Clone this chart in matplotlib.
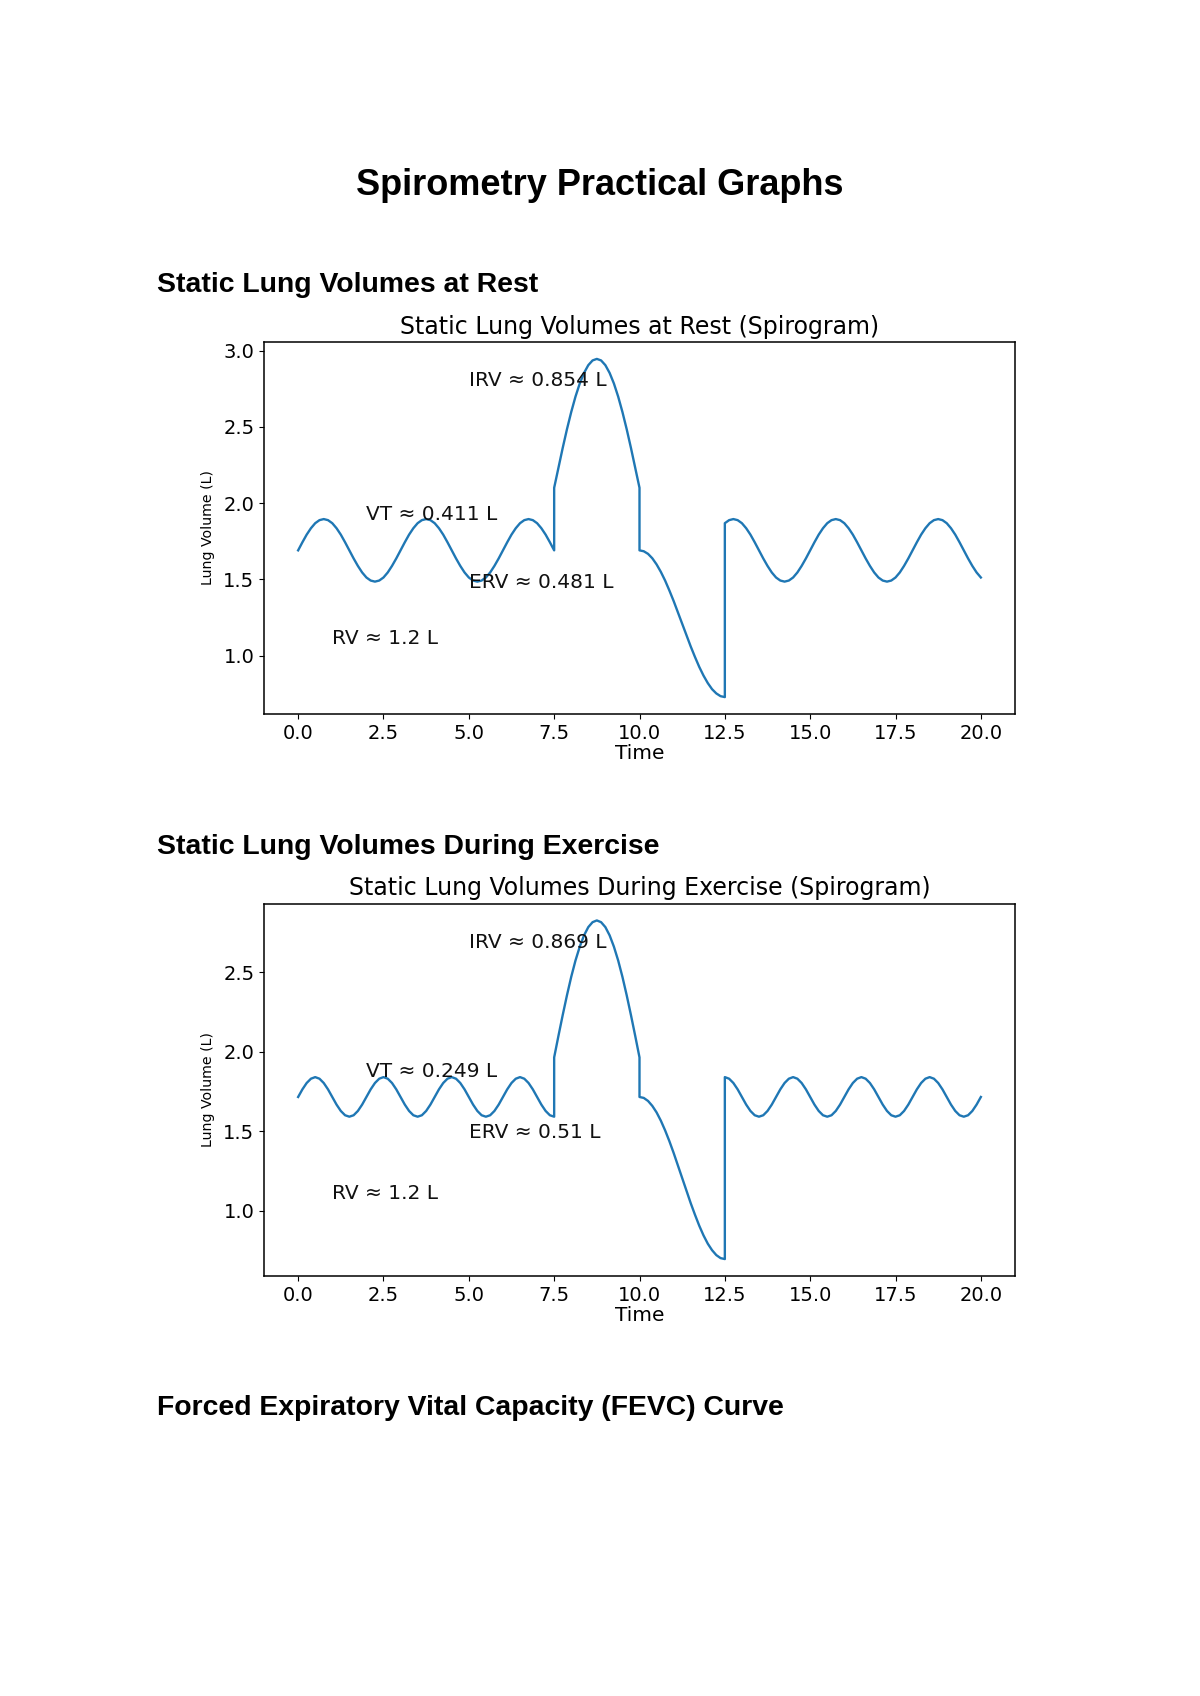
import matplotlib
matplotlib.use("Agg")
import matplotlib.pyplot as plt

# ---------------- data ----------------
time_seg1 = [0.0, 0.125, 0.25, 0.375, 0.5, 0.625, 0.75, 0.875,
             1.0, 1.125, 1.25, 1.375, 1.5, 1.625, 1.75, 1.875,
             2.0, 2.125, 2.25, 2.375, 2.5, 2.625, 2.75, 2.875,
             3.0, 3.125, 3.25, 3.375, 3.5, 3.625, 3.75, 3.875,
             4.0, 4.125, 4.25, 4.375, 4.5, 4.625, 4.75, 4.875,
             5.0, 5.125, 5.25, 5.375, 5.5, 5.625, 5.75, 5.875,
             6.0, 6.125, 6.25, 6.375, 6.5, 6.625, 6.75, 6.875,
             7.0, 7.125, 7.25, 7.375, 7.5]
time_seg2 = [7.5, 7.625, 7.75, 7.875, 8.0, 8.125, 8.25, 8.375, 8.5, 8.625, 8.75,
             8.875, 9.0, 9.125, 9.25, 9.375, 9.5, 9.625, 9.75, 9.875, 10.0]
time_seg3 = [10.0, 10.125, 10.25, 10.375, 10.5, 10.625, 10.75, 10.875, 11.0, 11.125, 11.25,
             11.375, 11.5, 11.625, 11.75, 11.875, 12.0, 12.125, 12.25, 12.375, 12.5]
time_seg4 = [12.5, 12.625, 12.75, 12.875, 13.0, 13.125, 13.25, 13.375,
             13.5, 13.625, 13.75, 13.875, 14.0, 14.125, 14.25, 14.375,
             14.5, 14.625, 14.75, 14.875, 15.0, 15.125, 15.25, 15.375,
             15.5, 15.625, 15.75, 15.875, 16.0, 16.125, 16.25, 16.375,
             16.5, 16.625, 16.75, 16.875, 17.0, 17.125, 17.25, 17.375,
             17.5, 17.625, 17.75, 17.875, 18.0, 18.125, 18.25, 18.375,
             18.5, 18.625, 18.75, 18.875, 19.0, 19.125, 19.25, 19.375,
             19.5, 19.625, 19.75, 19.875, 20.0]

rest_seg1 = [1.690, 1.743, 1.793, 1.835, 1.868, 1.888, 1.895, 1.888, 1.868, 1.835, 1.793, 1.743,
             1.690, 1.637, 1.588, 1.545, 1.512, 1.492, 1.485, 1.492, 1.512, 1.545, 1.588, 1.637,
             1.690, 1.743, 1.793, 1.835, 1.868, 1.888, 1.895, 1.888, 1.868, 1.835, 1.793, 1.743,
             1.690, 1.637, 1.588, 1.545, 1.512, 1.492, 1.485, 1.492, 1.512, 1.545, 1.588, 1.637,
             1.690, 1.743, 1.793, 1.835, 1.868, 1.888, 1.895, 1.888, 1.868, 1.835, 1.793, 1.743,
             1.690]
rest_seg2 = [2.100, 2.232, 2.361, 2.484, 2.597, 2.698, 2.784, 2.853, 2.904, 2.935, 2.945,
             2.935, 2.904, 2.853, 2.784, 2.698, 2.597, 2.484, 2.361, 2.232, 2.100]
rest_seg3 = [1.690, 1.684, 1.667, 1.638, 1.598, 1.549, 1.492, 1.427, 1.358, 1.284, 1.209,
             1.134, 1.060, 0.991, 0.926, 0.869, 0.820, 0.780, 0.752, 0.734, 0.728]
rest_seg4 = [1.868, 1.888, 1.895, 1.888, 1.868, 1.835, 1.793, 1.743,
             1.690, 1.637, 1.588, 1.545, 1.512, 1.492, 1.485, 1.492, 1.512, 1.545, 1.588, 1.637,
             1.690, 1.743, 1.793, 1.835, 1.868, 1.888, 1.895, 1.888, 1.868, 1.835, 1.793, 1.743,
             1.690, 1.637, 1.588, 1.545, 1.512, 1.492, 1.485, 1.492, 1.512, 1.545, 1.588, 1.637,
             1.690, 1.743, 1.793, 1.835, 1.868, 1.888, 1.895, 1.888, 1.868, 1.835, 1.793, 1.743,
             1.690, 1.637, 1.588, 1.545, 1.512]

ex_seg1 = [1.715, 1.763, 1.803, 1.830, 1.840, 1.830, 1.803, 1.763,
           1.715, 1.667, 1.627, 1.600, 1.591, 1.600, 1.627, 1.667,
           1.715, 1.763, 1.803, 1.830, 1.840, 1.830, 1.803, 1.763,
           1.715, 1.667, 1.627, 1.600, 1.591, 1.600, 1.627, 1.667,
           1.715, 1.763, 1.803, 1.830, 1.840, 1.830, 1.803, 1.763,
           1.715, 1.667, 1.627, 1.600, 1.591, 1.600, 1.627, 1.667,
           1.715, 1.763, 1.803, 1.830, 1.840, 1.830, 1.803, 1.763,
           1.715, 1.667, 1.627, 1.600, 1.591]
ex_seg2 = [1.964, 2.099, 2.230, 2.355, 2.471, 2.574, 2.661, 2.732, 2.784, 2.815, 2.826,
           2.815, 2.784, 2.732, 2.661, 2.574, 2.471, 2.355, 2.230, 2.099, 1.964]
ex_seg3 = [1.715, 1.709, 1.690, 1.659, 1.618, 1.566, 1.505, 1.437, 1.363, 1.285, 1.205,
           1.125, 1.047, 0.974, 0.905, 0.844, 0.792, 0.751, 0.720, 0.701, 0.695]
ex_seg4 = [1.840, 1.830, 1.803, 1.763,
           1.715, 1.667, 1.627, 1.600, 1.591, 1.600, 1.627, 1.667,
           1.715, 1.763, 1.803, 1.830, 1.840, 1.830, 1.803, 1.763,
           1.715, 1.667, 1.627, 1.600, 1.591, 1.600, 1.627, 1.667,
           1.715, 1.763, 1.803, 1.830, 1.840, 1.830, 1.803, 1.763,
           1.715, 1.667, 1.627, 1.600, 1.591, 1.600, 1.627, 1.667,
           1.715, 1.763, 1.803, 1.830, 1.840, 1.830, 1.803, 1.763,
           1.715, 1.667, 1.627, 1.600, 1.591, 1.600, 1.627, 1.667,
           1.715]

rest_labels = ["IRV \u2248 0.854 L", "VT \u2248 0.411 L", "ERV \u2248 0.481 L", "RV \u2248 1.2 L"]
rest_label_x = [5.0, 2.0, 5.0, 1.0]
rest_label_y = [2.765, 1.890, 1.445, 1.078]

ex_labels = ["IRV \u2248 0.869 L", "VT \u2248 0.249 L", "ERV \u2248 0.51 L", "RV \u2248 1.2 L"]
ex_label_x = [5.0, 2.0, 5.0, 1.0]
ex_label_y = [2.655, 1.838, 1.458, 1.074]

page_title = "Spirometry Practical Graphs"
section_titles = ["Static Lung Volumes at Rest",
                  "Static Lung Volumes During Exercise",
                  "Forced Expiratory Vital Capacity (FEVC) Curve"]
chart_titles = ["Static Lung Volumes at Rest (Spirogram)",
                "Static Lung Volumes During Exercise (Spirogram)"]

# ---------------- figure ----------------
W, H = 1200, 1696
fig = plt.figure(figsize=(W / 100, H / 100), dpi=100)
fig.patch.set_facecolor("white")

head_font = ["Liberation Sans", "DejaVu Sans"]
fig.text(600 / W, 1 - 195 / H, page_title, ha="center", va="baseline",
         fontsize=26, fontweight="bold", family=head_font)
for txt, yb in zip(section_titles, [292, 854, 1415]):
    fig.text(157 / W, 1 - yb / H, txt, ha="left", va="baseline",
             fontsize=20.4, fontweight="bold", family=head_font)


def make_chart(top_px, bottom_px, segs, labels, lx, ly, title):
    left_px, right_px = 264, 1015
    ax = fig.add_axes([left_px / W, 1 - bottom_px / H,
                       (right_px - left_px) / W, (bottom_px - top_px) / H])
    tt = time_seg1 + time_seg2 + time_seg3 + time_seg4
    vv = segs[0] + segs[1] + segs[2] + segs[3]
    ax.plot(tt, vv, color="#1f77b4", linewidth=1.7)
    for s, x, y in zip(labels, lx, ly):
        ax.text(x, y, s, fontsize=14.5, color="#111111")
    ax.set_title(title, fontsize=17, pad=6)
    ax.set_xlabel("Time", fontsize=14.5, labelpad=1)
    ax.set_ylabel("Lung Volume (L)", fontsize=10.2, labelpad=6)
    ax.set_xticks([0.0, 2.5, 5.0, 7.5, 10.0, 12.5, 15.0, 17.5, 20.0])
    ax.tick_params(labelsize=14)
    for sp in ax.spines.values():
        sp.set_linewidth(1.1)
    return ax


ax1 = make_chart(342, 714, [rest_seg1, rest_seg2, rest_seg3, rest_seg4],
                 rest_labels, rest_label_x, rest_label_y, chart_titles[0])
ax1.set_yticks([1.0, 1.5, 2.0, 2.5, 3.0])

ax2 = make_chart(903.5, 1276, [ex_seg1, ex_seg2, ex_seg3, ex_seg4],
                 ex_labels, ex_label_x, ex_label_y, chart_titles[1])
ax2.set_yticks([1.0, 1.5, 2.0, 2.5])

fig.savefig("out.png", dpi=100, facecolor="white")
